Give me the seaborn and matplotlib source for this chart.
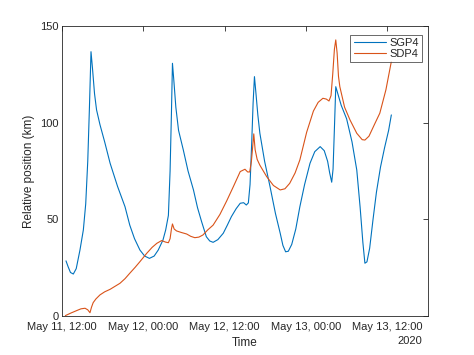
"""
Relative position of a satellite, SGP4 vs SDP4 propagators
"""

import pandas as pd
import matplotlib
matplotlib.use("Agg")
import matplotlib.pyplot as plt
import matplotlib.dates as mdates
import seaborn as sns

start_time = pd.Timestamp("2020-05-11 12:00")

# hours after May 11 12:00, relative position in km
sgp4_hours = [0.59, 0.9, 1.25, 1.67, 2.1, 2.65, 3.15, 3.5, 3.8, 4.05, 4.28, 4.5, 4.8,
              5.1, 5.6, 6.3, 7.1, 8.2, 9.3, 10.0, 10.7, 11.5, 12.2, 12.9, 13.6, 14.2,
              14.9, 15.3, 15.7, 15.95, 16.15, 16.3, 16.5, 16.8, 17.2, 17.9, 18.6, 19.4,
              20.0, 20.6, 21.3, 21.8, 22.3, 23.0, 23.8, 24.4, 25.0, 25.7, 26.3, 26.8,
              27.2, 27.5, 27.75, 28.0, 28.2, 28.4, 28.6, 28.9, 29.2, 29.9, 30.7, 31.5,
              32.2, 32.6, 33.0, 33.4, 33.9, 34.5, 35.1, 35.8, 36.6, 37.3, 38.1, 38.7,
              39.2, 39.5, 39.8, 40.0, 40.2, 40.4, 40.7, 41.2, 42.0, 42.8, 43.5, 44.0,
              44.4, 44.7, 45.0, 45.4, 45.9, 46.4, 47.0, 47.6, 48.2, 48.6]
sgp4_km = [28.5, 25.5, 22.5, 21.7, 24.5, 34.1, 44.5, 58.0, 80.0, 108.0, 136.7, 128.0,
           115.0, 106.6, 99.0, 90.0, 79.0, 67.0, 56.5, 47.0, 40.0, 34.1, 31.0, 29.8,
           31.0, 34.1, 39.3, 44.5, 52.0, 75.0, 105.0, 130.7, 122.0, 108.0, 96.0, 85.9,
           75.0, 65.2, 56.0, 48.8, 41.0, 38.8, 38.1, 39.5, 42.8, 47.0, 51.4, 55.5,
           58.3, 58.6, 57.4, 58.5, 68.0, 90.0, 110.0, 123.8, 116.0, 104.0, 94.5, 80.0,
           66.9, 53.0, 42.8, 36.5, 33.2, 33.5, 37.0, 45.0, 56.5, 68.0, 79.0, 85.0,
           87.6, 85.5, 80.0, 74.0, 69.2, 76.0, 97.0, 118.6, 115.0, 109.0, 102.0, 90.0,
           75.5, 56.0, 38.0, 27.3, 28.0, 35.0, 50.0, 64.0, 77.0, 87.0, 96.0, 104.0]

sdp4_hours = [0.5, 1.3, 2.17, 2.8, 3.4, 3.8, 4.13, 4.35, 4.6, 5.0, 5.6, 6.3, 7.1, 7.8,
              8.55, 9.3, 10.0, 10.8, 11.5, 12.5, 13.3, 14.0, 14.7, 15.3, 15.7, 15.95,
              16.15, 16.3, 16.55, 16.9, 17.6, 18.4, 19.0, 19.6, 20.2, 20.8, 21.5, 22.3,
              23.3, 24.3, 25.3, 26.3, 27.0, 27.4, 27.7, 27.95, 28.15, 28.3, 28.5, 28.8,
              29.2, 30.2, 31.2, 32.2, 32.9, 33.6, 34.4, 35.1, 36.1, 37.1, 37.8, 38.5,
              39.0, 39.4, 39.7, 39.95, 40.2, 40.4, 40.6, 40.8, 41.0, 41.7, 42.5, 43.5,
              44.3, 44.7, 45.3, 46.1, 46.9, 47.8, 48.6]
sdp4_km = [0.2, 1.5, 2.8, 3.7, 4.0, 3.2, 1.7, 4.5, 6.9, 8.8, 10.9, 12.5, 13.8, 15.3,
           16.9, 19.3, 22.1, 25.2, 28.1, 32.4, 35.5, 37.6, 39.0, 38.2, 37.9, 40.0,
           45.0, 47.6, 45.0, 44.0, 43.2, 42.4, 41.2, 40.5, 40.8, 41.9, 44.5, 47.0,
           52.5, 59.5, 67.0, 74.7, 75.9, 74.5, 74.5, 80.0, 88.0, 94.2, 86.0, 81.0,
           78.0, 72.1, 67.5, 65.2, 65.8, 68.6, 74.0, 80.7, 95.0, 106.0, 110.5, 112.6,
           112.2, 111.2, 114.0, 125.0, 138.0, 142.8, 136.0, 124.0, 118.6, 108.0, 101.4,
           94.5, 91.2, 91.0, 93.0, 99.0, 104.9, 117.0, 131.6]

models = ["SGP4", "SDP4"]
colors = ["#0072BD", "#D95319"]

df = pd.concat([
    pd.DataFrame({"Time": start_time + pd.to_timedelta(sgp4_hours, unit="h"),
                  "km": sgp4_km, "model": models[0]}),
    pd.DataFrame({"Time": start_time + pd.to_timedelta(sdp4_hours, unit="h"),
                  "km": sdp4_km, "model": models[1]}),
])

sns.set_style("white")
plt.rcParams["font.family"] = ["Liberation Sans", "DejaVu Sans"]

fig = plt.figure(figsize=(4.74, 3.55), dpi=100)
ax = fig.add_axes([0.1308, 0.1099, 0.772, 0.8169])

sns.lineplot(data=df, x="Time", y="km", hue="model", palette=dict(zip(models, colors)),
             estimator=None, sort=False, linewidth=0.8, ax=ax)

ax.set_xlim(start_time, start_time + pd.Timedelta(hours=54))
ax.set_ylim(0, 150)
ax.set_yticks([0, 50, 100, 150])
ax.xaxis.set_major_locator(mdates.HourLocator(byhour=[0, 12]))
ax.xaxis.set_major_formatter(mdates.DateFormatter("%b %d, %H:%M"))

ax.tick_params(direction="in", length=3.5, width=0.6, colors="#262626",
               labelsize=8, top=True, right=True)
ax.tick_params(axis="x", pad=4)
ax.tick_params(axis="y", pad=2.5)
for s in ax.spines.values():
    s.set_color("#262626")
    s.set_linewidth(0.6)

ax.set_xlabel("Time", fontsize=8.5, color="#262626", labelpad=4)
ax.set_ylabel("Relative position (km)", fontsize=8.5, color="#262626", labelpad=3.5)
ax.text(0.985, -0.068, "2020", transform=ax.transAxes, ha="right", va="top",
        fontsize=8, color="#262626")

leg = ax.legend(loc="upper right", bbox_to_anchor=(0.9836, 0.969), borderaxespad=0,
                fontsize=8, frameon=True, fancybox=False, edgecolor="#262626",
                handlelength=2.9, handletextpad=0.3, borderpad=0.3, labelspacing=0.05)
leg.get_frame().set_linewidth(0.6)
for line in leg.get_lines():
    line.set_linewidth(0.8)

fig.savefig("out.png", dpi=100)
